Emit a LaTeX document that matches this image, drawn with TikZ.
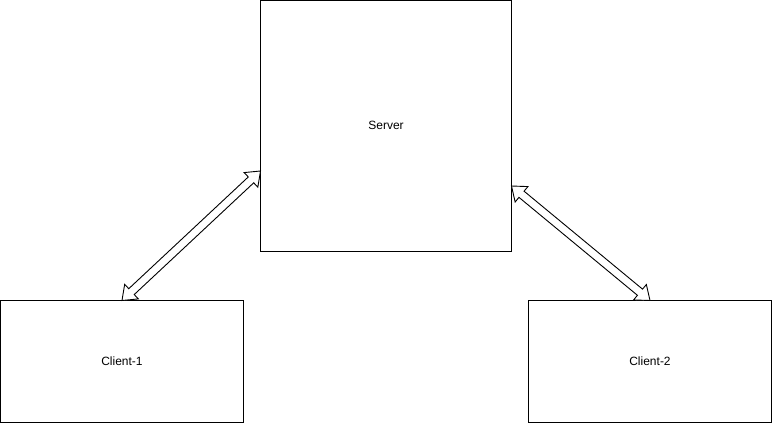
\documentclass[tikz,border=0pt]{standalone}
\usepackage{fontspec}
\setmainfont{Liberation Sans}
\usetikzlibrary{calc}
\tikzset{box/.style={draw,line width=0.9pt,fill=white,inner sep=0pt,font=\fontsize{12}{14}\selectfont},
 flex/.style={draw,line width=0.9pt,fill=white,line join=miter}}
\newcommand{\flexarrow}[2]{%
 \path ($(#1)!13pt!(#2)$) coordinate (fa1) ($(#2)!13pt!(#1)$) coordinate (fb1);
 \draw[flex] (#1) -- ($(fa1)!10pt!90:(#2)$) -- ($(fa1)!4pt!90:(#2)$) -- ($(fb1)!4pt!-90:(#1)$) -- ($(fb1)!10pt!-90:(#1)$) -- (#2)
  -- ($(fb1)!10pt!90:(#1)$) -- ($(fb1)!4pt!90:(#1)$) -- ($(fa1)!4pt!-90:(#2)$) -- ($(fa1)!10pt!-90:(#2)$) -- cycle;}
\begin{document}
\begin{tikzpicture}[x=1pt,y=-1pt]
\useasboundingbox (0,0) rectangle (772,423);
\node[box,minimum width=251pt,minimum height=250.5pt] (server) at (386,125.7) {Server};
\node[box,minimum width=243pt,minimum height=122pt] (c1) at (122,361.5) {Client-1};
\node[box,minimum width=243pt,minimum height=122pt] (c2) at (650,361.5) {Client-2};
\coordinate (a1) at (122,300.5);
\coordinate (a2) at (260.5,171);
\coordinate (b1) at (511.5,186);
\coordinate (b2) at (650,300.5);
\flexarrow{a1}{a2}
\flexarrow{b1}{b2}
\end{tikzpicture}
\end{document}
